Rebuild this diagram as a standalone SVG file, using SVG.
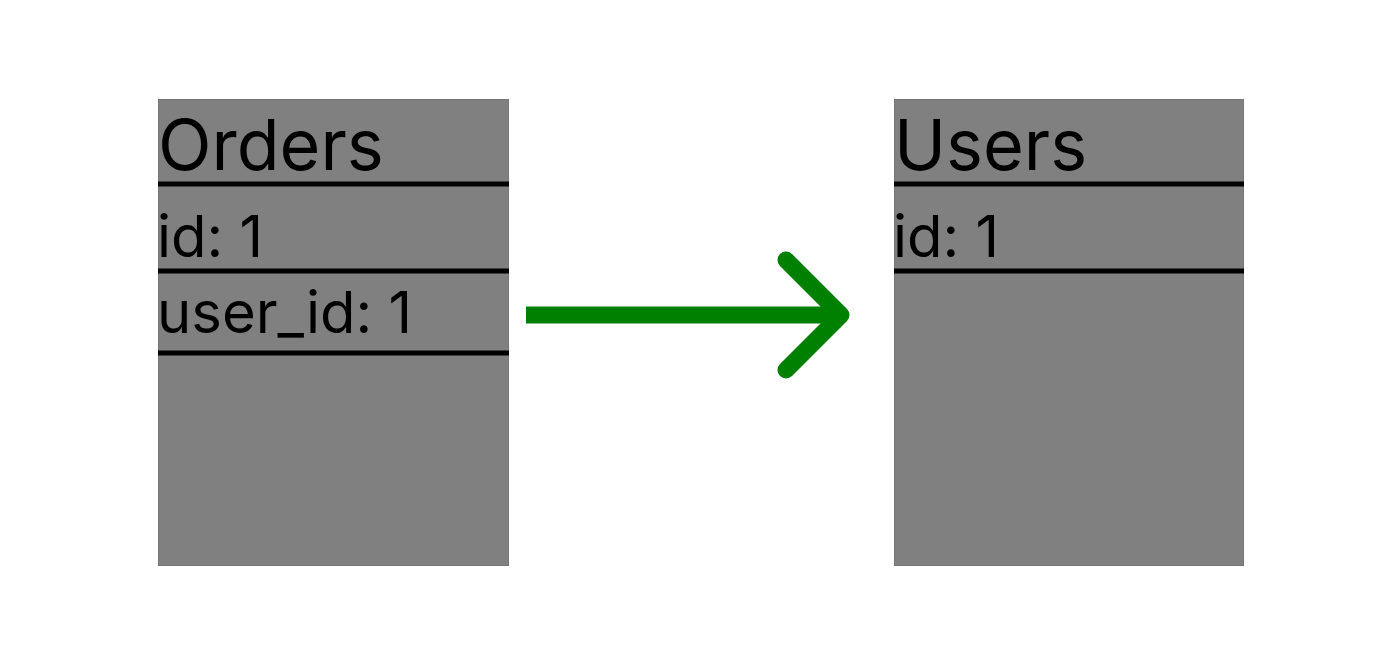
<svg xmlns="http://www.w3.org/2000/svg" width="1400" height="652" viewBox="0 0 1400 652">
<style>
.box{fill:#808080;stroke:#777;stroke-width:1}
.sep{stroke:#000;stroke-width:5}
.t{font-family:Inter,"Liberation Sans",sans-serif;fill:#000}
.title{font-size:70px}
.field{font-size:58px}
.conn{stroke:#008000;stroke-width:17;fill:none;stroke-linejoin:round}
</style>
<rect width="1400" height="652" fill="#fff"/>
<g id="orders">
<rect class="box" x="158.5" y="99.5" width="350" height="466"/>
<text class="t title" x="158" y="170">Orders</text>
<line class="sep" x1="158" y1="184" x2="509" y2="184"/>
<text class="t field" x="157" y="257">id: 1</text>
<line class="sep" x1="158" y1="271" x2="509" y2="271"/>
<text class="t field" x="157" y="333">user_id: 1</text>
<line class="sep" x1="158" y1="353" x2="509" y2="353"/>
</g>
<g id="users">
<rect class="box" x="894.5" y="99.5" width="349" height="466"/>
<text class="t title" x="894" y="170">Users</text>
<line class="sep" x1="894" y1="184" x2="1244" y2="184"/>
<text class="t field" x="893" y="257">id: 1</text>
<line class="sep" x1="894" y1="271" x2="1244" y2="271"/>
</g>
<g id="connectors">
<line class="conn" x1="526" y1="315" x2="838" y2="315"/>
<polyline class="conn" stroke-linecap="round" points="786,260 841,315 786,370"/>
</g>
</svg>
